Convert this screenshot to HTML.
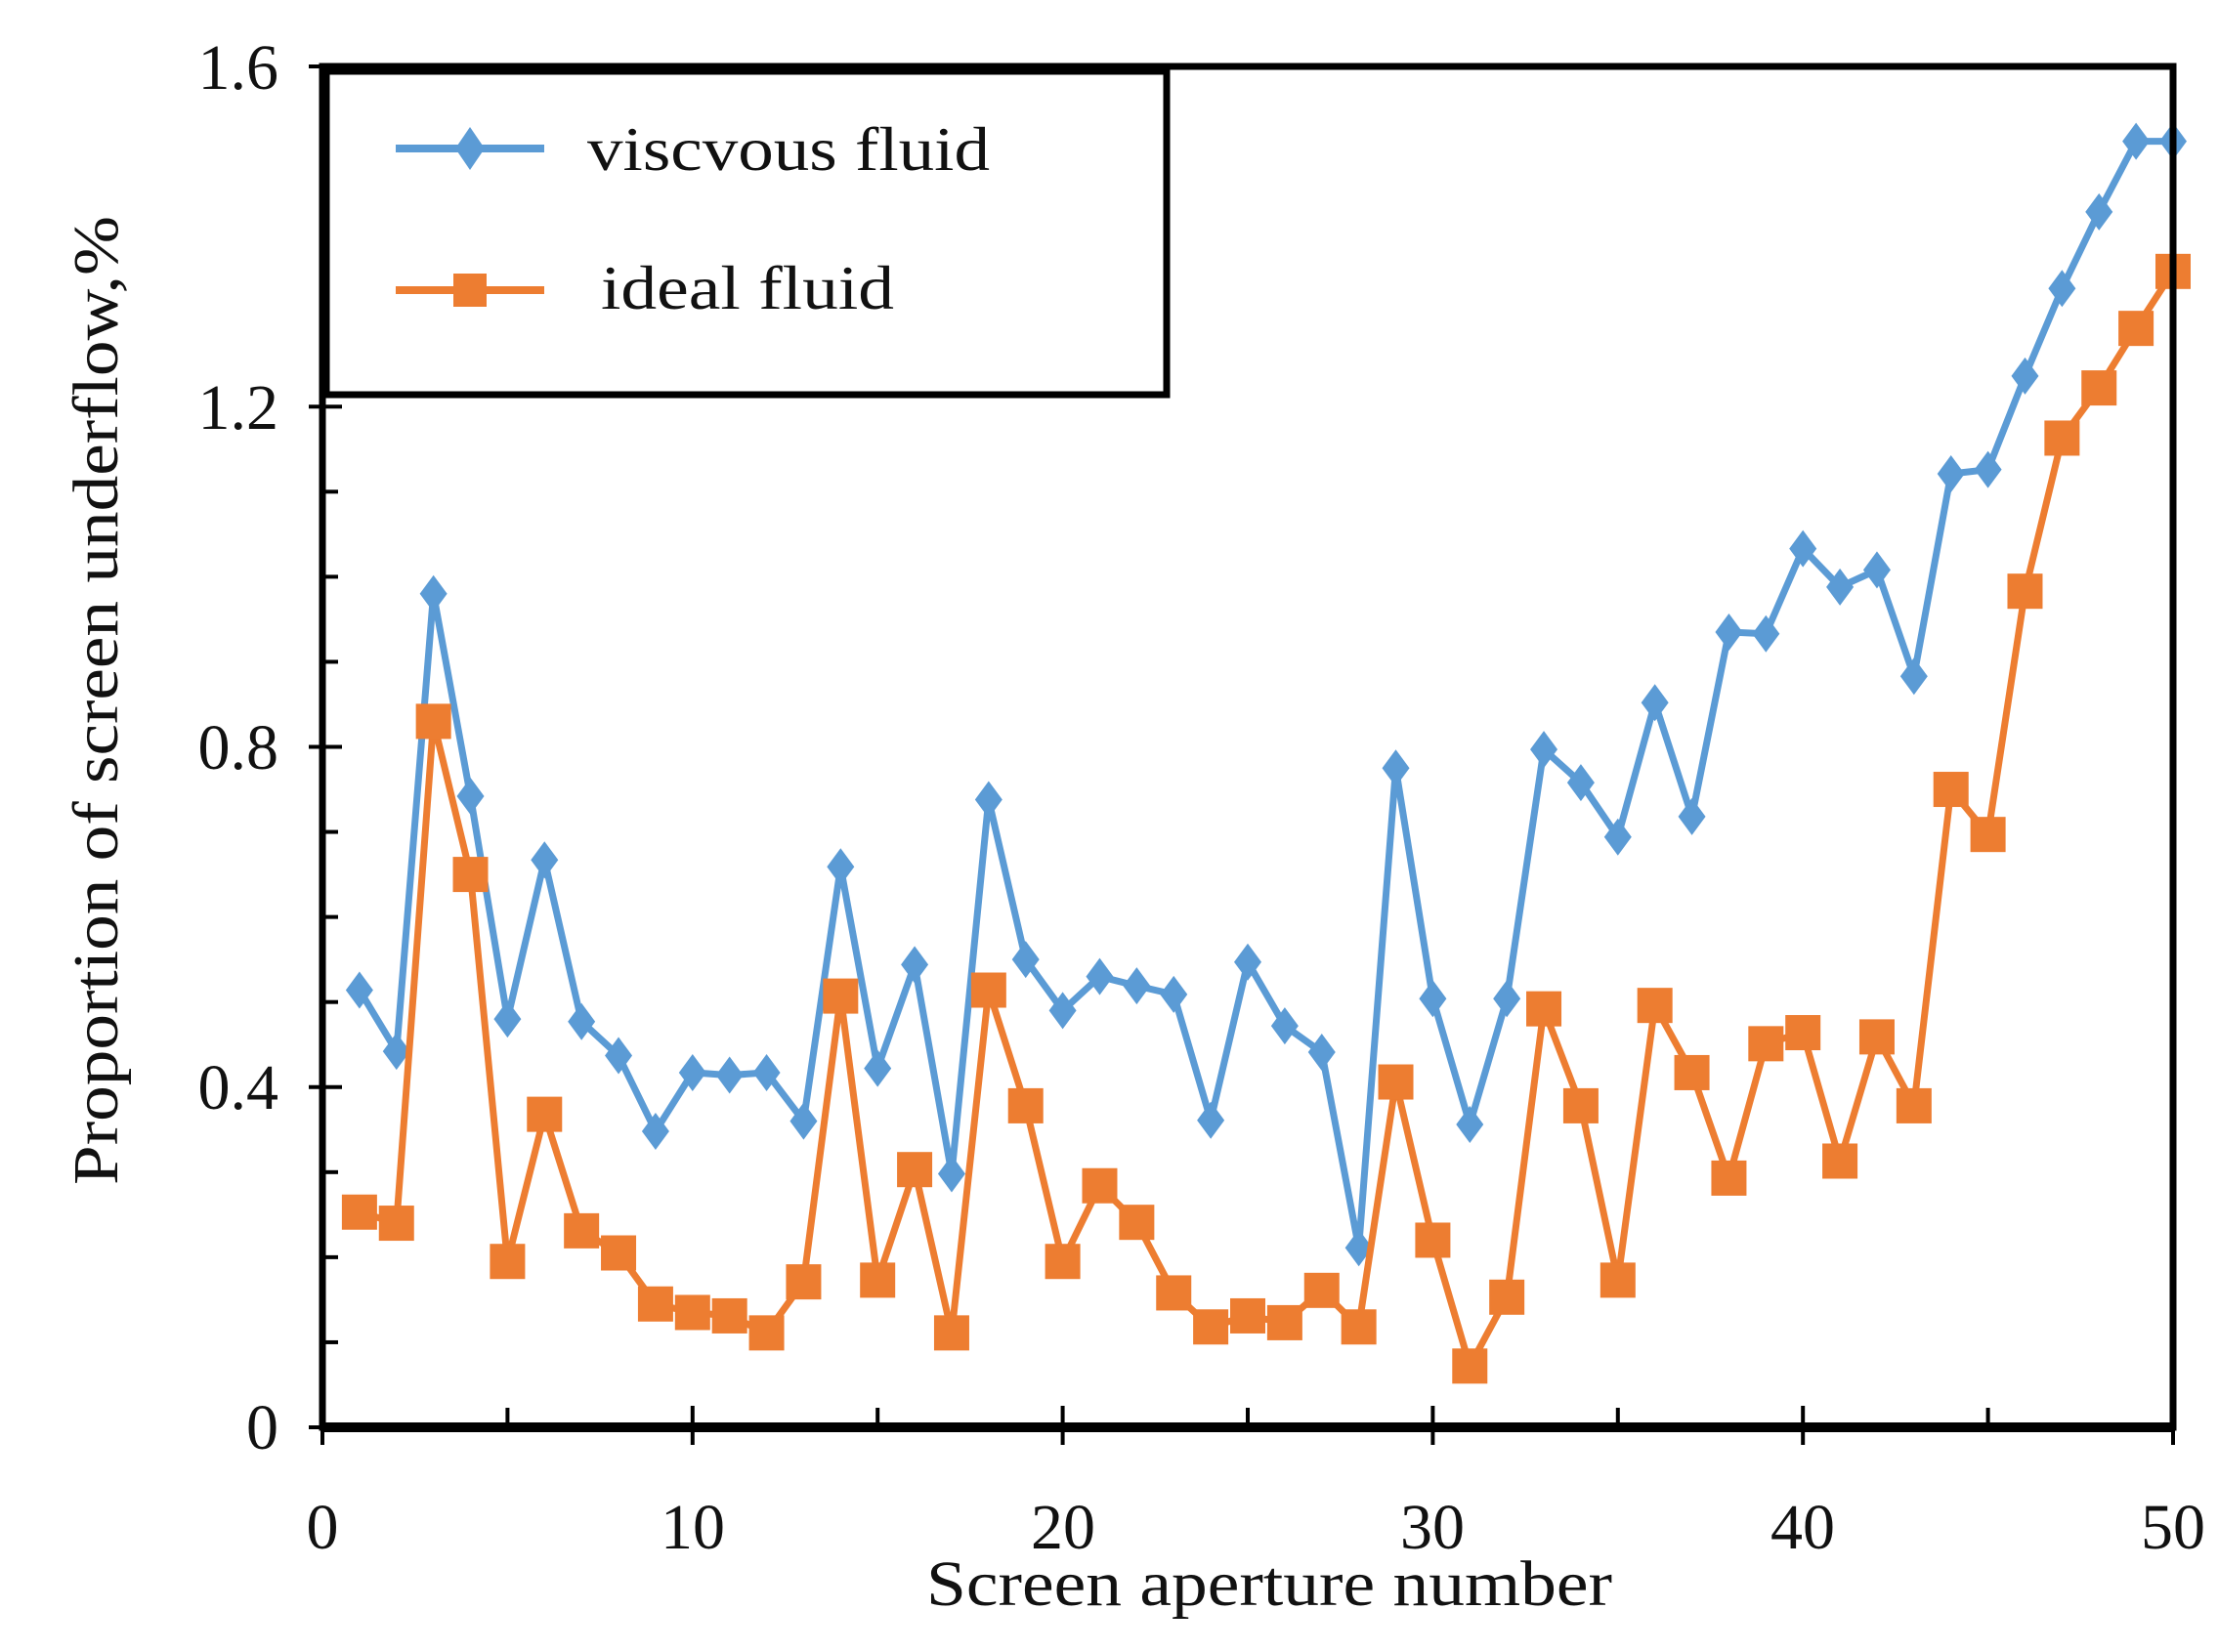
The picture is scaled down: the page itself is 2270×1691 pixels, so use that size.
<!DOCTYPE html>
<html><head><meta charset="utf-8"><style>
html,body{margin:0;padding:0;background:#fff;}
svg{display:block;}
text{font-family:"Liberation Serif",serif;fill:#111;}
</style></head><body>
<svg id="s" width="2270" height="1691" viewBox="0 0 2270 1691" xmlns="http://www.w3.org/2000/svg">
<rect width="2270" height="1691" fill="#fff"/>
<g id="ticks" stroke="#000" stroke-width="4"></g>
<g id="series"></g>
<rect x="330" y="68" width="1894" height="1393" fill="none" stroke="#000" stroke-width="7"/>
<line x1="330" y1="1461" x2="2224" y2="1461" stroke="#000" stroke-width="10"/>
<g font-size="66" text-anchor="end">
<text x="285" y="1483">0</text>
<text x="285" y="1135">0.4</text>
<text x="285" y="787">0.8</text>
<text x="285" y="439">1.2</text>
<text x="285" y="91">1.6</text>
</g>
<g font-size="66" text-anchor="middle">
<text x="330" y="1585">0</text>
<text x="709" y="1585">10</text>
<text x="1088" y="1585">20</text>
<text x="1466" y="1585">30</text>
<text x="1845" y="1585">40</text>
<text x="2224" y="1585">50</text>
</g>
<text x="948" y="1643" font-size="66" textLength="702" lengthAdjust="spacingAndGlyphs">Screen aperture number</text>
<text transform="translate(120,1213) rotate(-90)" font-size="66" textLength="992" lengthAdjust="spacingAndGlyphs">Proportion of screen underflow,%</text>
<rect x="334" y="73" width="860" height="331" fill="#fff" stroke="#000" stroke-width="7"/>
<line x1="405" y1="152" x2="557" y2="152" stroke="#5b9bd5" stroke-width="8"/>
<polygon points="481,130 496,152 481,174 466,152" fill="#5b9bd5"/>
<line x1="405" y1="297" x2="557" y2="297" stroke="#ed7d31" stroke-width="8"/>
<rect x="464" y="280" width="34" height="34" fill="#ed7d31"/>
<text x="601" y="174" font-size="64" textLength="412" lengthAdjust="spacingAndGlyphs">viscvous fluid</text>
<text x="615" y="316" font-size="64" textLength="300" lengthAdjust="spacingAndGlyphs">ideal fluid</text>
</svg>
<script>
var L=330,R=2224,B=1461,T=68;
function X(i){return L+(R-L)*i/50;}
function Y(v){return B-(B-T)*v/1.6;}
var ns="http://www.w3.org/2000/svg";
var tk=document.getElementById('ticks');
function ln(x1,y1,x2,y2){var e=document.createElementNS(ns,'line');e.setAttribute('x1',x1);e.setAttribute('y1',y1);e.setAttribute('x2',x2);e.setAttribute('y2',y2);tk.appendChild(e);}
for(var k=0;k<=16;k++){var y=Y(k/10);if(k%4==0)ln(L-14,y,L+20,y);else ln(L,y,L+16,y);}
for(var i=0;i<=50;i+=5){var x=X(i);if(i%10==0)ln(x,B-22,x,B+18);else ln(x,B-20,x,B);}
var blue=[0.514,0.442,0.98,0.742,0.48,0.667,0.477,0.437,0.348,0.417,0.414,0.417,0.36,0.659,0.422,0.544,0.298,0.738,0.55,0.49,0.53,0.519,0.509,0.361,0.547,0.472,0.441,0.211,0.775,0.504,0.356,0.504,0.797,0.758,0.694,0.852,0.718,0.935,0.933,1.033,0.988,1.008,0.883,1.121,1.126,1.236,1.339,1.429,1.512,1.512];
var orange=[0.253,0.24,0.83,0.65,0.195,0.368,0.231,0.205,0.145,0.135,0.131,0.111,0.171,0.507,0.173,0.303,0.111,0.514,0.378,0.195,0.284,0.241,0.158,0.118,0.131,0.123,0.161,0.118,0.406,0.22,0.072,0.153,0.492,0.378,0.173,0.496,0.417,0.293,0.451,0.464,0.313,0.459,0.378,0.75,0.697,0.983,1.163,1.222,1.292,1.359];
var g=document.getElementById('series'),h='';
function pl(d,c){var p=d.map(function(v,i){return X(i+1).toFixed(1)+','+Y(v).toFixed(1)}).join(' ');return '<polyline points="'+p+'" fill="none" stroke="'+c+'" stroke-width="7" stroke-linejoin="round"/>';}
h+=pl(blue,'#5b9bd5');
blue.forEach(function(v,i){var x=X(i+1),y=Y(v);h+='<polygon points="'+x+','+(y-19)+' '+(x+14)+','+y+' '+x+','+(y+19)+' '+(x-14)+','+y+'" fill="#5b9bd5"/>';});
h+=pl(orange,'#ed7d31');
orange.forEach(function(v,i){var x=X(i+1),y=Y(v);h+='<rect x="'+(x-18)+'" y="'+(y-18)+'" width="36" height="36" fill="#ed7d31"/>';});
g.innerHTML=h;
</script>
</body></html>
